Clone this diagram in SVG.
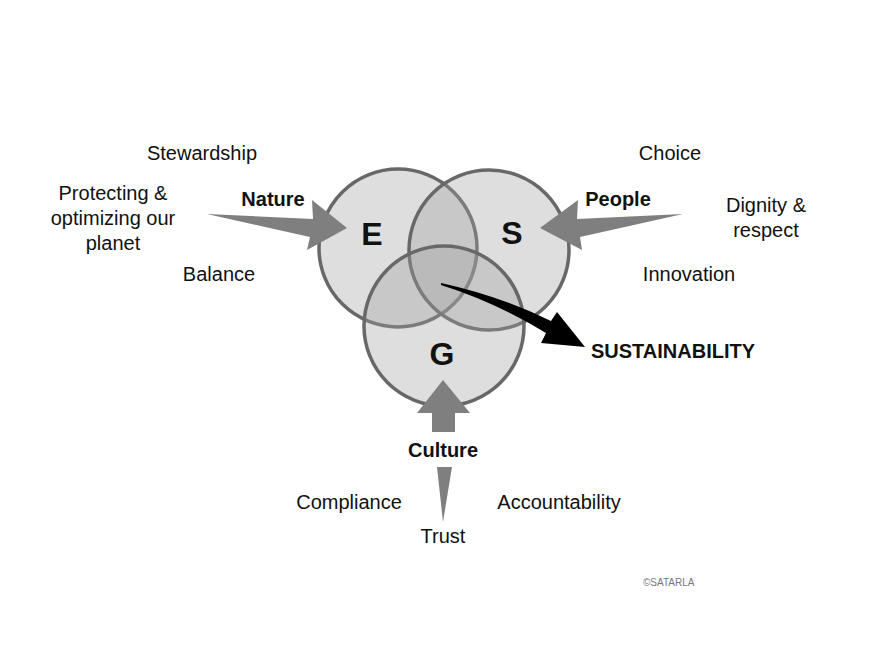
<svg xmlns="http://www.w3.org/2000/svg" width="896" height="672" viewBox="0 0 896 672">
<style>
.t{font-family:"Liberation Sans",Arial,sans-serif;font-size:20px;fill:#111;text-anchor:middle}
.b{font-weight:bold}
.big{font-family:"Liberation Sans",Arial,sans-serif;font-size:32px;font-weight:bold;fill:#111;text-anchor:middle}
.c{fill:#a0a0a0;fill-opacity:0.35;stroke:#686868;stroke-width:3.5}
.ga{fill:#7f7f7f}
</style>
<rect width="896" height="672" fill="#fff"/>
<g id="E"><circle class="c" cx="398" cy="248" r="79"/><text class="big" x="372" y="245">E</text></g>
<g id="S"><circle class="c" cx="489" cy="250" r="80"/><text class="big" x="512" y="244">S</text></g>
<g id="G"><circle class="c" cx="444" cy="326" r="80"/><text class="big" x="442" y="365">G</text></g>
<g id="connectors">
<polygon class="ga" points="207,214 313,219 312,200 347,228 307,250 310,237"/>
<polygon class="ga" points="683,214 577,219 578,200 540,228 582,250 580,237"/>
<polygon class="ga" points="443,380 470,413 455,413 455,432 432,432 432,413 417,413"/>
<polygon class="ga" points="437,467 452,467 443,522"/>
<path fill="#000" d="M441,283 Q500,296 551,321 L557,312 L585,347 L541,343 L546,333 Q495,302 441,285 Z"/>
</g>
<g id="labels">
<text class="t" x="202" y="160">Stewardship</text>
<text class="t" x="113" y="200">Protecting &amp;</text>
<text class="t" x="113" y="225">optimizing our</text>
<text class="t" x="113" y="250">planet</text>
<text class="t b" x="273" y="206">Nature</text>
<text class="t" x="219" y="281">Balance</text>
<text class="t" x="670" y="160">Choice</text>
<text class="t b" x="618" y="206">People</text>
<text class="t" x="766" y="212">Dignity &amp;</text>
<text class="t" x="766" y="237">respect</text>
<text class="t" x="689" y="281">Innovation</text>
<text class="t b" x="673" y="358">SUSTAINABILITY</text>
<text class="t b" x="443" y="457">Culture</text>
<text class="t" x="349" y="509">Compliance</text>
<text class="t" x="559" y="509">Accountability</text>
<text class="t" x="443" y="543">Trust</text>
<text x="643" y="586" style="font-family:'Liberation Sans',Arial,sans-serif;font-size:10px;fill:#777">©SATARLA</text>
</g>
</svg>
